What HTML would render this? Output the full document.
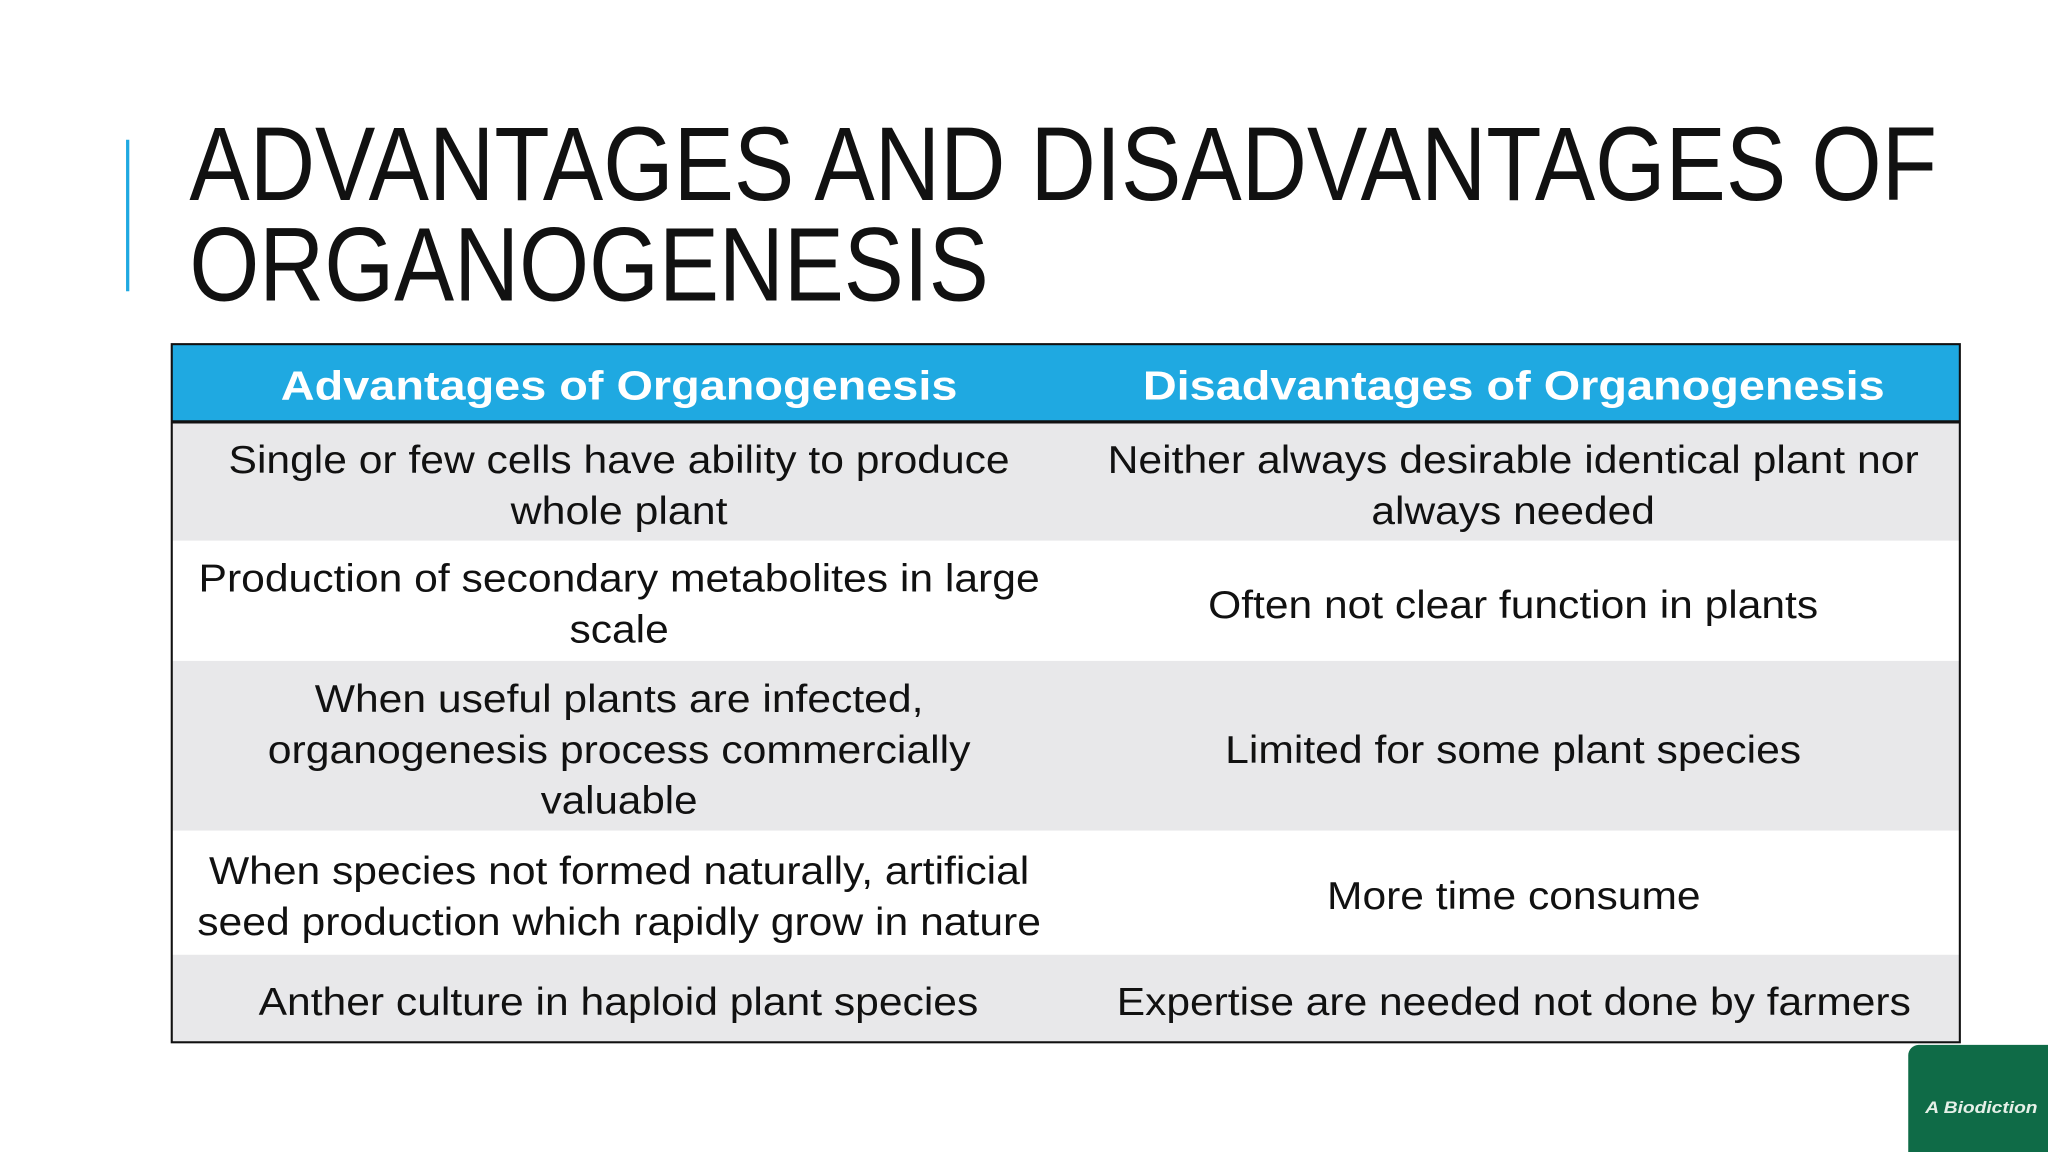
<!DOCTYPE html>
<html><head><meta charset="utf-8"><style>
html,body{margin:0;padding:0;background:#fff;width:2048px;height:1152px;overflow:hidden}
svg{display:block}
text{font-family:"Liberation Sans",Arial,sans-serif}
</style></head><body>
<svg width="2048" height="1152" viewBox="0 0 1568 882">
<rect x="0" y="0" width="1568" height="882" fill="#fff"/>
<rect x="96.5" y="107" width="2.5" height="116" fill="#1fa9e1"/>
<g fill="#111" font-size="80">
<text x="145" y="153" textLength="1338" lengthAdjust="spacingAndGlyphs">ADVANTAGES AND DISADVANTAGES OF</text>
<text x="145" y="230" textLength="612" lengthAdjust="spacingAndGlyphs">ORGANOGENESIS</text>
</g>
<g>
<rect x="131.5" y="263.5" width="1369" height="60" fill="#1fa9e1"/>
<rect x="131.5" y="323" width="1369" height="91" fill="#e8e8ea"/>
<rect x="131.5" y="414" width="1369" height="92" fill="#ffffff"/>
<rect x="131.5" y="506" width="1369" height="130" fill="#e8e8ea"/>
<rect x="131.5" y="636" width="1369" height="95" fill="#ffffff"/>
<rect x="131.5" y="731" width="1369" height="67" fill="#e8e8ea"/>
<line x1="131.5" y1="323" x2="1500.5" y2="323" stroke="#111" stroke-width="2.5"/>
<rect x="131.5" y="263.5" width="1369" height="534.5" fill="none" stroke="#111" stroke-width="1.6"/>
<g fill="#fff" font-weight="bold" font-size="31">
<text x="215" y="306" textLength="518" lengthAdjust="spacingAndGlyphs">Advantages of Organogenesis</text>
<text x="875" y="306" textLength="568" lengthAdjust="spacingAndGlyphs">Disadvantages of Organogenesis</text>
</g>
<g fill="#111" font-size="30">
<text x="175" y="362" textLength="598" lengthAdjust="spacingAndGlyphs">Single or few cells have ability to produce</text>
<text x="391" y="401" textLength="166" lengthAdjust="spacingAndGlyphs">whole plant</text>
<text x="848" y="362" textLength="621" lengthAdjust="spacingAndGlyphs">Neither always desirable identical plant nor</text>
<text x="1050" y="401" textLength="217" lengthAdjust="spacingAndGlyphs">always needed</text>
<text x="152" y="453" textLength="644" lengthAdjust="spacingAndGlyphs">Production of secondary metabolites in large</text>
<text x="436" y="492" textLength="76" lengthAdjust="spacingAndGlyphs">scale</text>
<text x="925" y="473" textLength="467" lengthAdjust="spacingAndGlyphs">Often not clear function in plants</text>
<text x="241" y="545" textLength="466" lengthAdjust="spacingAndGlyphs">When useful plants are infected,</text>
<text x="205" y="584" textLength="538" lengthAdjust="spacingAndGlyphs">organogenesis process commercially</text>
<text x="414" y="623" textLength="120" lengthAdjust="spacingAndGlyphs">valuable</text>
<text x="938" y="584" textLength="441" lengthAdjust="spacingAndGlyphs">Limited for some plant species</text>
<text x="160" y="677" textLength="628" lengthAdjust="spacingAndGlyphs">When species not formed naturally, artificial</text>
<text x="151" y="716" textLength="646" lengthAdjust="spacingAndGlyphs">seed production which rapidly grow in nature</text>
<text x="1016" y="696" textLength="286" lengthAdjust="spacingAndGlyphs">More time consume</text>
<text x="198" y="777" textLength="551" lengthAdjust="spacingAndGlyphs">Anther culture in haploid plant species</text>
<text x="855" y="777" textLength="608" lengthAdjust="spacingAndGlyphs">Expertise are needed not done by farmers</text>
</g>
</g>
<g>
<rect x="1461" y="800" width="115" height="90" rx="8" fill="#0f6b47"/>
<text x="1474" y="852" fill="#e6f0e8" font-size="13" font-weight="bold" font-style="italic" textLength="86" lengthAdjust="spacingAndGlyphs">A Biodiction</text>
</g>
</svg>
</body></html>
